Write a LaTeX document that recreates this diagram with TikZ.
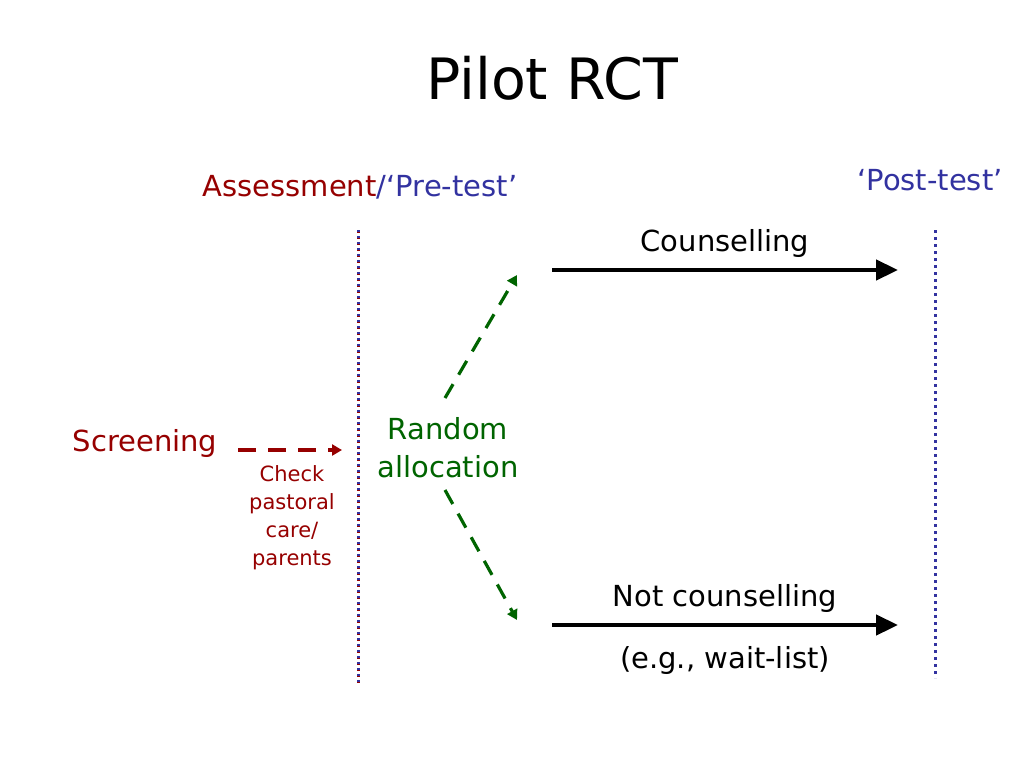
\documentclass[tikz,border=0pt]{standalone}
\usepackage{fontspec}
\setmainfont{DejaVu Sans}
\usetikzlibrary{arrows.meta}
\definecolor{dred}{RGB}{150,0,0}
\definecolor{dblue}{RGB}{50,50,160}
\definecolor{dgreen}{RGB}{0,100,0}
\begin{document}
\begin{tikzpicture}[x=1pt,y=-1pt,
  lbl/.style={font=\fontsize{29}{34}\selectfont,inner sep=0pt},
  small/.style={inner sep=0pt,align=center,text=dred},
  mainarrow/.style={line width=4.5pt,-{Triangle[length=22pt,width=20pt]}},
  greenarrow/.style={dgreen,line width=3.2pt,dash pattern=on 16pt off 11pt,-{Triangle[length=10pt,width=11pt]}}]
\useasboundingbox (0,0) rectangle (1024,768);
\node[inner sep=0pt,font=\fontsize{57}{62}\selectfont] (title) at (552,78) {Pilot RCT};
\node[lbl] (pre) at (360,187) {\textcolor{dred}{Assessment}\textcolor{dblue}{/‘Pre-test’}};
\node[lbl,text=dblue] (post) at (930,180) {‘Post-test’};
\coordinate (lt) at (358,230); \coordinate (lb) at (358,685);
\coordinate (rt) at (935,230); \coordinate (rb) at (935,678);
\draw[dred,line width=3pt,dash pattern=on 3pt off 3pt] (lt) -- (lb);
\draw[dblue,line width=3pt,dash pattern=on 1.5pt off 4.5pt] (lt) -- (lb);
\draw[dblue,line width=3pt,dash pattern=on 3pt off 4pt] (rt) -- (rb);
\coordinate (c1) at (552,270); \coordinate (c2) at (898,270);
\draw[mainarrow] (c1) -- (c2);
\node[lbl] (couns) at (725,243) {Counselling};
\coordinate (n1) at (552,625); \coordinate (n2) at (898,625);
\draw[mainarrow] (n1) -- (n2);
\node[lbl] (notc) at (725,598) {Not counselling};
\node[lbl] (wait) at (725,660) {(e.g., wait-list)};
\node[lbl,text=dgreen,align=center,font=\fontsize{29}{38}\selectfont] (rand) at (448,448) {Random\\allocation};
\coordinate (g1) at (517,275); \coordinate (g2) at (517,620);
\draw[greenarrow] (445,398) -- (g1);
\draw[greenarrow] (445,490) -- (g2);
\node[lbl,text=dred] (scr) at (145,443) {Screening};
\coordinate (s2) at (342,450);
\draw[dred,line width=3.2pt,dash pattern=on 18pt off 12pt,-{Triangle[length=10pt,width=11pt]}] (238,450) -- (s2);
\node[small,font=\fontsize{21}{28}\selectfont] (check) at (292,518) {Check\\pastoral\\care/\\parents};
\end{tikzpicture}
\end{document}
